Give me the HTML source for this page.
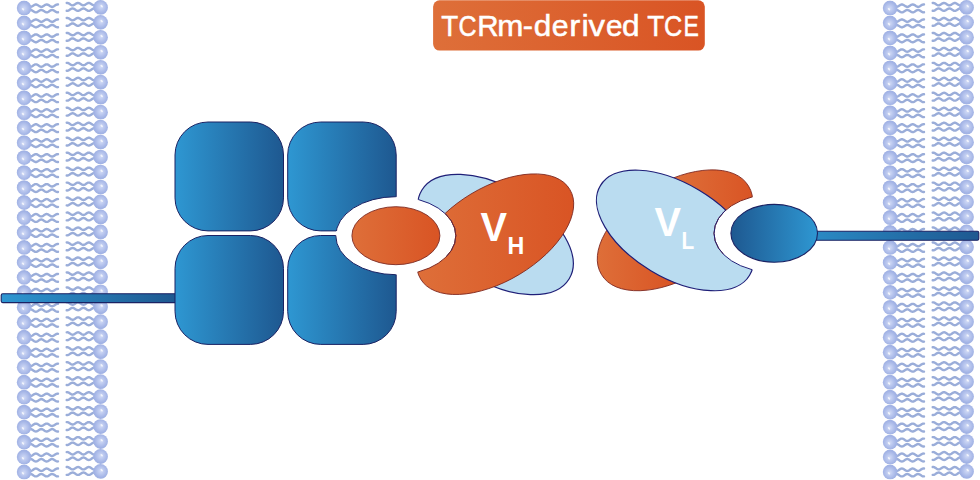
<!DOCTYPE html>
<html><head><meta charset="utf-8"><title>TCRm-derived TCE</title>
<style>
html,body{margin:0;padding:0;background:#fff;}
body{width:980px;height:480px;overflow:hidden;position:relative;font-family:"Liberation Sans",sans-serif;}
svg{position:absolute;left:0;top:0;display:block;}
text{font-family:"Liberation Sans",sans-serif;}
</style></head><body>
<svg width="980" height="480" viewBox="0 0 980 480">
<defs>
<radialGradient id="hd" cx="0.46" cy="0.54" r="0.56">
<stop offset="0" stop-color="#d2dbf6"/>
<stop offset="0.45" stop-color="#b6c4ed"/>
<stop offset="0.8" stop-color="#a2b3e5"/>
<stop offset="0.92" stop-color="#a2b3e5"/>
<stop offset="1" stop-color="#a6b7e6" stop-opacity="0.35"/>
</radialGradient>
<linearGradient id="bl" x1="0" y1="0" x2="1" y2="0">
<stop offset="0" stop-color="#2e97d2"/><stop offset="1" stop-color="#1e5890"/>
</linearGradient>
<linearGradient id="blr" x1="0" y1="0" x2="1" y2="0">
<stop offset="0" stop-color="#1e5890"/><stop offset="1" stop-color="#2e97d2"/>
</linearGradient>
<linearGradient id="or" x1="0" y1="0" x2="1" y2="0">
<stop offset="0" stop-color="#de6f39"/><stop offset="1" stop-color="#d95424"/>
</linearGradient>
<linearGradient id="orT" gradientUnits="userSpaceOnUse" x1="433" y1="0" x2="705" y2="0">
<stop offset="0" stop-color="#de6f39"/><stop offset="1" stop-color="#d95424"/>
</linearGradient>
<linearGradient id="orL" gradientUnits="userSpaceOnUse" x1="417" y1="0" x2="575" y2="0">
<stop offset="0" stop-color="#de6f39"/><stop offset="1" stop-color="#d95424"/>
</linearGradient>
<linearGradient id="orR1" gradientUnits="userSpaceOnUse" x1="596" y1="0" x2="676" y2="0">
<stop offset="0" stop-color="#de6f39"/><stop offset="1" stop-color="#d95424"/>
</linearGradient>
<linearGradient id="orR2" gradientUnits="userSpaceOnUse" x1="674" y1="0" x2="754" y2="0">
<stop offset="0" stop-color="#de6f39"/><stop offset="1" stop-color="#d95424"/>
</linearGradient>
<clipPath id="cpLow"><rect x="580" y="230.3" width="200" height="80"/></clipPath>
<clipPath id="cpUp"><rect x="580" y="150" width="200" height="80.3"/></clipPath>
<linearGradient id="lnL" gradientUnits="userSpaceOnUse" x1="0" y1="0" x2="176" y2="0">
<stop offset="0" stop-color="#2e97d2"/><stop offset="1" stop-color="#1e5890"/>
</linearGradient>
<linearGradient id="lnR" gradientUnits="userSpaceOnUse" x1="770" y1="0" x2="980" y2="0">
<stop offset="0" stop-color="#2e97d2"/><stop offset="1" stop-color="#1e5890"/>
</linearGradient>
<clipPath id="cpBoxes"><rect x="175.0" y="122.0" width="108.5" height="108.9" rx="33" ry="33"/><rect x="287.7" y="122.0" width="108.5" height="108.9" rx="33" ry="33"/><rect x="175.0" y="235.5" width="108.5" height="108.9" rx="33" ry="33"/><rect x="287.7" y="235.5" width="108.5" height="108.9" rx="33" ry="33"/></clipPath>
<clipPath id="cpBL"><path d="M421.78,190.21 A86,47.5 31 1 0 569.22,278.79 A86,47.5 31 1 0 421.78,190.21 Z"/></clipPath>
<clipPath id="cpOL"><path d="M420.63,279.01 A87.0,46.6 -31 1 0 569.77,189.39 A87.0,46.6 -31 1 0 420.63,279.01 Z"/></clipPath>
<clipPath id="cpBR"><path d="M600.43,185.64 A87,46.6 31 1 0 749.57,275.26 A87,46.6 31 1 0 600.43,185.64 Z"/></clipPath>
<clipPath id="cpOR"><path d="M601.46,274.49 A85.8,47.4 -31 1 0 748.54,186.11 A85.8,47.4 -31 1 0 601.46,274.49 Z"/></clipPath>
<g id="lip">
<path d="M7.00,-1.15 L7.67,-1.41 L8.34,-1.80 L9.01,-2.26 L9.68,-2.71 L10.35,-3.10 L11.02,-3.36 L11.69,-3.45 L12.36,-3.36 L13.03,-3.11 L13.70,-2.73 L14.37,-2.27 L15.04,-1.81 L15.71,-1.42 L16.38,-1.15 L17.05,-1.05 L17.72,-1.13 L18.39,-1.37 L19.06,-1.75 L19.73,-2.20 L20.40,-2.66 L21.07,-3.06 L21.74,-3.33 L22.41,-3.45 L23.08,-3.38 L23.75,-3.15 L24.42,-2.78 L25.09,-2.33 L25.76,-1.87 L26.43,-1.46 L27.10,-1.18 L27.77,-1.05 L28.44,-1.11 L29.11,-1.34 L29.78,-1.70 L30.45,-2.15 L31.12,-2.61 L31.79,-3.02 L32.46,-3.31 L33.13,-3.44 L33.80,-3.40" fill="none" stroke="#9aadd9" stroke-width="2.4" stroke-linecap="round" stroke-linejoin="round"/>
<path d="M7.00,2.15 L7.67,2.41 L8.34,2.80 L9.01,3.26 L9.68,3.71 L10.35,4.10 L11.02,4.36 L11.69,4.45 L12.36,4.36 L13.03,4.11 L13.70,3.73 L14.37,3.27 L15.04,2.81 L15.71,2.42 L16.38,2.15 L17.05,2.05 L17.72,2.13 L18.39,2.37 L19.06,2.75 L19.73,3.20 L20.40,3.66 L21.07,4.06 L21.74,4.33 L22.41,4.45 L23.08,4.38 L23.75,4.15 L24.42,3.78 L25.09,3.33 L25.76,2.87 L26.43,2.46 L27.10,2.18 L27.77,2.05 L28.44,2.11 L29.11,2.34 L29.78,2.70 L30.45,3.15 L31.12,3.61 L31.79,4.02 L32.46,4.31 L33.13,4.44 L33.80,4.40" fill="none" stroke="#9aadd9" stroke-width="2.4" stroke-linecap="round" stroke-linejoin="round"/>
<circle cx="0" cy="0" r="7.4" fill="url(#hd)"/>
<ellipse cx="-1.2" cy="1.3" rx="1.5" ry="0.9" transform="rotate(45 -1.2 1.3)" fill="#ffffff" opacity="0.75"/>
</g>
<g id="pair">
<use href="#lip" x="24.2" y="7.9"/>
<use href="#lip" transform="translate(100.5 7.4) rotate(180)"/>
</g>
<g id="col">
<use href="#pair" y="0.00"/>
<use href="#pair" y="14.97"/>
<use href="#pair" y="29.94"/>
<use href="#pair" y="44.91"/>
<use href="#pair" y="59.88"/>
<use href="#pair" y="74.85"/>
<use href="#pair" y="89.82"/>
<use href="#pair" y="104.79"/>
<use href="#pair" y="119.76"/>
<use href="#pair" y="134.73"/>
<use href="#pair" y="149.70"/>
<use href="#pair" y="164.67"/>
<use href="#pair" y="179.64"/>
<use href="#pair" y="194.61"/>
<use href="#pair" y="209.58"/>
<use href="#pair" y="224.55"/>
<use href="#pair" y="239.52"/>
<use href="#pair" y="254.49"/>
<use href="#pair" y="269.46"/>
<use href="#pair" y="284.43"/>
<use href="#pair" y="299.40"/>
<use href="#pair" y="314.37"/>
<use href="#pair" y="329.34"/>
<use href="#pair" y="344.31"/>
<use href="#pair" y="359.28"/>
<use href="#pair" y="374.25"/>
<use href="#pair" y="389.22"/>
<use href="#pair" y="404.19"/>
<use href="#pair" y="419.16"/>
<use href="#pair" y="434.13"/>
<use href="#pair" y="449.10"/>
<use href="#pair" y="464.07"/>
</g>
</defs>
<rect width="980" height="480" fill="#ffffff"/>
<!-- membranes -->
<use href="#col"/>
<use href="#col" x="866"/>

<!-- title -->
<rect x="433.1" y="0.3" width="271.7" height="50.3" rx="6.5" ry="6.5" fill="url(#orT)"/>
<g font-size="29.5" fill="#ffffff" stroke="#ffffff" stroke-width="0.5">
<text transform="translate(441.19 35.8) scale(0.940 1)">T</text>
<text transform="translate(458.47 35.8) scale(0.849 1)">C</text>
<text transform="translate(477.33 35.8) scale(1.000 1)">R</text>
<text transform="translate(497.23 35.8) scale(1.064 1)">m</text>
<text transform="translate(522.85 35.8) scale(1.038 1)">-</text>
<text transform="translate(533.67 35.8) scale(1.070 1)">d</text>
<text transform="translate(551.63 35.8) scale(1.024 1)">e</text>
<text transform="translate(569.29 35.8) scale(1.120 1)">r</text>
<text transform="translate(581.53 35.8) scale(1.120 1)">i</text>
<text transform="translate(588.62 35.8) scale(1.120 1)">v</text>
<text transform="translate(606.05 35.8) scale(1.006 1)">e</text>
<text transform="translate(621.97 35.8) scale(1.070 1)">d</text>
<text transform="translate(647.19 35.8) scale(0.940 1)">T</text>
<text transform="translate(664.11 35.8) scale(0.857 1)">C</text>
<text transform="translate(683.60 35.8) scale(0.780 1)">E</text>
</g>

<text x="442" y="143" font-size="38" fill="#ffffff">V</text>
<text x="656" y="140" font-size="38" fill="#ffffff">V</text>
<!-- left stalk -->
<rect x="1.2" y="293.8" width="180" height="8.8" rx="1.5" fill="url(#lnL)" stroke="#1b2263" stroke-width="1.1"/>
<!-- boxes -->
<rect x="175.0" y="122.0" width="108.5" height="108.9" rx="33" ry="33" fill="url(#bl)" stroke="#1b2263" stroke-width="1"/>
<rect x="287.7" y="122.0" width="108.5" height="108.9" rx="33" ry="33" fill="url(#bl)" stroke="#1b2263" stroke-width="1"/>
<rect x="175.0" y="235.5" width="108.5" height="108.9" rx="33" ry="33" fill="url(#bl)" stroke="#1b2263" stroke-width="1"/>
<rect x="287.7" y="235.5" width="108.5" height="108.9" rx="33" ry="33" fill="url(#bl)" stroke="#1b2263" stroke-width="1"/>

<!-- left VH domain -->
<path d="M421.78,190.21 A86,47.5 31 1 0 569.22,278.79 A86,47.5 31 1 0 421.78,190.21 Z" fill="#badcf0" stroke="#1f1f78" stroke-width="1.2"/>
<path d="M420.63,279.01 A87.0,46.6 -31 1 0 569.77,189.39 A87.0,46.6 -31 1 0 420.63,279.01 Z" fill="url(#orL)" stroke="#7e2820" stroke-width="0.9"/>
<!-- halo & small orange -->
<ellipse cx="395.8" cy="235.7" rx="60" ry="39" fill="#ffffff"/>
<g fill="none" stroke-width="1">
<ellipse cx="395.8" cy="235.7" rx="60" ry="39" stroke="#1b2263" clip-path="url(#cpBoxes)"/>
<ellipse cx="395.8" cy="235.7" rx="60" ry="39" stroke="#1f1f78" clip-path="url(#cpBL)"/>
<ellipse cx="395.8" cy="235.7" rx="60" ry="39" stroke="#7e2820" clip-path="url(#cpOL)"/>
</g>
<ellipse cx="395.9" cy="235.7" rx="44" ry="29" fill="url(#or)" stroke="#7d2a22" stroke-width="0.9"/>
<text transform="translate(480.6 241.2) scale(0.97 1)" font-size="41" font-weight="bold" fill="#ffffff">V</text>
<text transform="translate(507.6 253.6) scale(0.95 1)" font-size="24.5" font-weight="bold" fill="#ffffff">H</text>

<!-- right VL domain -->
<path d="M601.46,274.49 A85.8,47.4 -31 1 0 748.54,186.11 A85.8,47.4 -31 1 0 601.46,274.49 Z" fill="url(#orR1)" stroke="#7e2820" stroke-width="0.9" clip-path="url(#cpLow)"/>
<path d="M601.46,274.49 A85.8,47.4 -31 1 0 748.54,186.11 A85.8,47.4 -31 1 0 601.46,274.49 Z" fill="url(#orR2)" stroke="#7e2820" stroke-width="0.9" clip-path="url(#cpUp)"/>
<path d="M600.43,185.64 A87,46.6 31 1 0 749.57,275.26 A87,46.6 31 1 0 600.43,185.64 Z" fill="#badcf0" stroke="#1f1f78" stroke-width="1.2"/>
<ellipse cx="774" cy="233.3" rx="60" ry="39" fill="#ffffff"/>
<g fill="none" stroke-width="1">
<ellipse cx="774" cy="233.3" rx="60" ry="39" stroke="#7e2820" clip-path="url(#cpOR)"/>
<ellipse cx="774" cy="233.3" rx="60" ry="39" stroke="#1f1f78" clip-path="url(#cpBR)"/>
</g>
<!-- right stalk -->
<rect x="810" y="231.3" width="168.8" height="9.0" rx="1.5" fill="url(#lnR)" stroke="#1b2263" stroke-width="1.1"/>
<ellipse cx="774.2" cy="233.3" rx="43.3" ry="28.9" fill="url(#blr)" stroke="#1b2263" stroke-width="1.1"/>
<text transform="translate(654.5 236.2) scale(0.97 1)" font-size="41" font-weight="bold" fill="#ffffff">V</text>
<text transform="translate(681.5 249.2) scale(0.85 1)" font-size="24.5" font-weight="bold" fill="#ffffff">L</text>
</svg>
</body></html>
